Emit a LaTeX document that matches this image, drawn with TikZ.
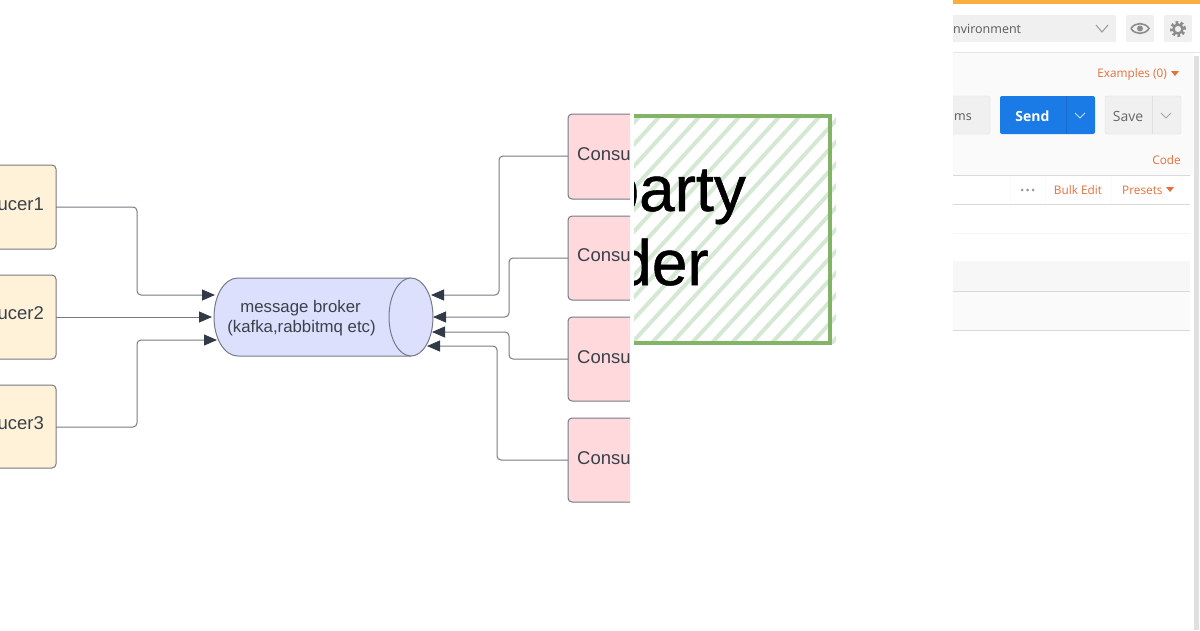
\documentclass[tikz,border=0pt]{standalone}
\usepackage{fontspec}
\setmainfont{Liberation Sans}
\newfontfamily\uifont{Open Sans}
\newfontfamily\bigfont[FakeBold=0.8]{Liberation Sans}
\usetikzlibrary{arrows.meta,shapes.geometric}
\definecolor{inkc}{HTML}{3A414A}
\definecolor{linec}{HTML}{757A85}
\definecolor{tipc}{HTML}{333A47}
\definecolor{yelc}{HTML}{FFF2D9}
\definecolor{pinkc}{HTML}{FFD9DC}
\definecolor{bluec}{HTML}{DDE0FD}
\definecolor{hatchc}{HTML}{D5E8D4}
\definecolor{greenc}{HTML}{82B366}
\definecolor{orangec}{HTML}{E4703A}
\definecolor{sendc}{HTML}{1A7BE6}
\definecolor{barc}{HTML}{F9AE3F}
\tikzset{
  x=1pt,y=-1pt,
  boxbase/.style={draw=linec,line width=1pt,rounded corners=4pt},
  prodbox/.style={boxbase,fill=yelc},
  consbox/.style={boxbase,fill=pinkc},
  lab/.style={font=\fontsize{18.5}{20}\selectfont,text=inkc,inner sep=0pt},
  brokerlab/.style={font=\fontsize{16.8}{20}\selectfont,text=inkc,inner sep=0pt},
  bigtxt/.style={font=\bigfont\fontsize{64}{70}\selectfont,text=black,inner sep=0pt},
  flow/.style={draw=linec,line width=1pt,rounded corners=4pt,-{Triangle[length=13pt,width=11pt,color=tipc]}},
  hatch/.style={draw=hatchc,line width=4pt},
  uigray/.style={fill=black!6,draw=none,rounded corners=2pt},
  uilink/.style={font=\uifont\fontsize{11.8}{14}\selectfont,text=orangec,inner sep=0pt},
  uitxt/.style={font=\uifont\fontsize{12.5}{14}\selectfont,text=black!65,inner sep=0pt},
  rule/.style={draw=black!15,line width=1pt},
}
\begin{document}
\begin{tikzpicture}
\useasboundingbox (0,0) rectangle (1200,630);
\fill[white] (0,0) rectangle (1200,630);

% producers
\path[prodbox] (-20,165) rectangle (56,249);
\path[prodbox] (-20,275) rectangle (56,359);
\path[prodbox] (-20,385) rectangle (56,468);
\coordinate (p1) at (56,207);
\coordinate (p2) at (56,317);
\coordinate (p3) at (56,427);
\node[lab,anchor=base east] (t1) at (44,210) {ucer1};
\node[lab,anchor=base east] (t2) at (44,319) {ucer2};
\node[lab,anchor=base east] (t3) at (44,429) {ucer3};

% broker
\path[draw=linec,line width=1pt,fill=bluec] (411,278) -- (238,278)
  .. controls (224,278) and (214,296) .. (214,317)
  .. controls (214,338) and (224,356) .. (238,356) -- (411,356);
\node[ellipse,draw=linec,line width=1pt,fill=bluec,minimum width=44pt,minimum height=78pt,inner sep=0pt,outer sep=0pt] (broker) at (411,317) {};
\node[brokerlab] (bt1) at (300.5,308) {message broker};
\node[brokerlab] (bt2) at (301.5,328) {(kafka,rabbitmq etc)};

\coordinate (b1) at (215,295);
\coordinate (b2) at (212,317);
\coordinate (b3) at (217,340);
\coordinate (b4) at (431,295);
\coordinate (b5) at (433,317);
\coordinate (b6) at (432,332);
\coordinate (b7) at (427,346);

\draw[flow] (p1) -| (137,251) |- (b1);
\draw[flow] (p2) -- (b2);
\draw[flow] (p3) -| (137,383) |- (b3);

% consumers
\begin{scope}
\clip (500,0) rectangle (630,630);
\path[consbox] (568,114) rectangle (660,199);
\path[consbox] (568,216) rectangle (660,300);
\path[consbox] (568,317) rectangle (660,401);
\path[consbox] (568,418) rectangle (660,502);
\node[lab,anchor=base west] (c1t) at (577,160) {Consu};
\node[lab,anchor=base west] (c2t) at (577,261) {Consu};
\node[lab,anchor=base west] (c3t) at (577,363) {Consu};
\node[lab,anchor=base west] (c4t) at (577,464) {Consu};
\end{scope}
\coordinate (c1) at (568,156);
\coordinate (c2) at (568,258);
\coordinate (c3) at (568,359);
\coordinate (c4) at (568,460);
\draw[flow] (c1) -| (499,225) |- (b4);
\draw[flow] (c2) -| (509,290) |- (b5);
\draw[flow] (c3) -| (509,345) |- (b6);
\draw[flow] (c4) -| (497,400) |- (b7);

% third party box
\begin{scope}
\clip (634,110) rectangle (836,348);
\foreach \k in {0,...,22}{
  \draw[hatch] (410+\k*20,345) -- (630+\k*20,105);
}
\fill[white] (634,110) rectangle (836,114);
\fill[white] (634,344) rectangle (836,348);
\node[bigtxt,anchor=base east] (tp1) at (746,211) {party};
\node[bigtxt,anchor=base east] (tp2) at (709,285) {der};
\end{scope}
\draw[greenc,line width=3.6pt] (634,116) -- (830,116) -- (830,343) -- (634,343);

% right panel
\fill[white] (953,0) rectangle (1200,630);
\fill[black!2] (953,53) rectangle (1193,175);
\fill[barc] (953,0) rectangle (1200,4);
\draw[rule,draw=black!10] (953,52) -- (1200,52);
\fill[black!12] (1194,56) rectangle (1199,630);
\begin{scope}
\clip (953,0) rectangle (1200,630);
\path[uigray] (945,15) rectangle (1116,42);
\path[uigray,draw=black!12] (945,96) rectangle (990,134);
\end{scope}
\node[uitxt,anchor=base west] (env) at (953,33) {nvironment};
\draw[black!40,line width=1pt] (1096,25) -- (1102,32) -- (1108,25);
\path[uigray] (1126,15) rectangle (1154,42);
\draw[black!45,line width=1.6pt] (1131,28.5) .. controls (1135,22) and (1145,22) .. (1149,28.5) .. controls (1145,35) and (1135,35) .. (1131,28.5);
\fill[black!45] (1140,28.5) circle (3pt);
\path[uigray] (1164,15) rectangle (1192,42);
\draw[black!45,line width=3pt,dash pattern=on 2.6pt off 2.4pt] (1178,29) circle (6.5pt);
\draw[black!45,line width=2.4pt] (1178,29) circle (4.5pt);
\node[uilink,anchor=base east] (ex) at (1167,77) {Examples (0)};
\fill[orangec] (1171,71) -- (1179,71) -- (1175,76) -- cycle;
\node[uitxt,anchor=base east] (pa) at (972,120) {ms};
\path[fill=sendc,rounded corners=2pt] (1000,96) rectangle (1095,134);
\draw[black!12!sendc,line width=.6pt] (1066,96) -- (1066,134);
\node[font=\uifont\bfseries\fontsize{14}{16}\selectfont,text=white,inner sep=0pt] (send) at (1032.5,116) {Send};
\draw[white!75!sendc,line width=1pt] (1075,113) -- (1080,118) -- (1085,113);
\path[uigray,draw=black!12] (1105,96) rectangle (1181,134);
\draw[black!12] (1152,96) -- (1152,134);
\node[font=\uifont\fontsize{14}{16}\selectfont,text=black!60,inner sep=0pt] (save) at (1128,116) {Save};
\draw[black!35,line width=.8pt] (1161,113) -- (1166,118) -- (1171,113);
\node[uilink,anchor=base east] (code) at (1181,164) {Code};
\draw[rule] (953,175) -- (1190,175);
\fill[black!40] (1022,190) circle (1.5pt) (1027.500,190) circle (1.500pt) (1033,190) circle (1.500pt);
\draw[black!2] (1010,176) -- (1010,204) (1045,176) -- (1045,204) (1111,176) -- (1111,204);
\node[uilink,anchor=base] (bulk) at (1078,194) {Bulk Edit};
\node[uilink,anchor=base west] (pre) at (1122,194) {Presets};
\fill[orangec] (1166,187) -- (1174,187) -- (1170,192) -- cycle;
\draw[rule] (953,204) -- (1190,204);
\draw[draw=black!4] (953,233) -- (1190,233);
\fill[black!3] (953,261) rectangle (1190,291);
\fill[black!2] (953,291) rectangle (1190,330);
\draw[rule] (953,291) -- (1190,291);
\draw[rule] (953,330) -- (1190,330);
\end{tikzpicture}
\end{document}
